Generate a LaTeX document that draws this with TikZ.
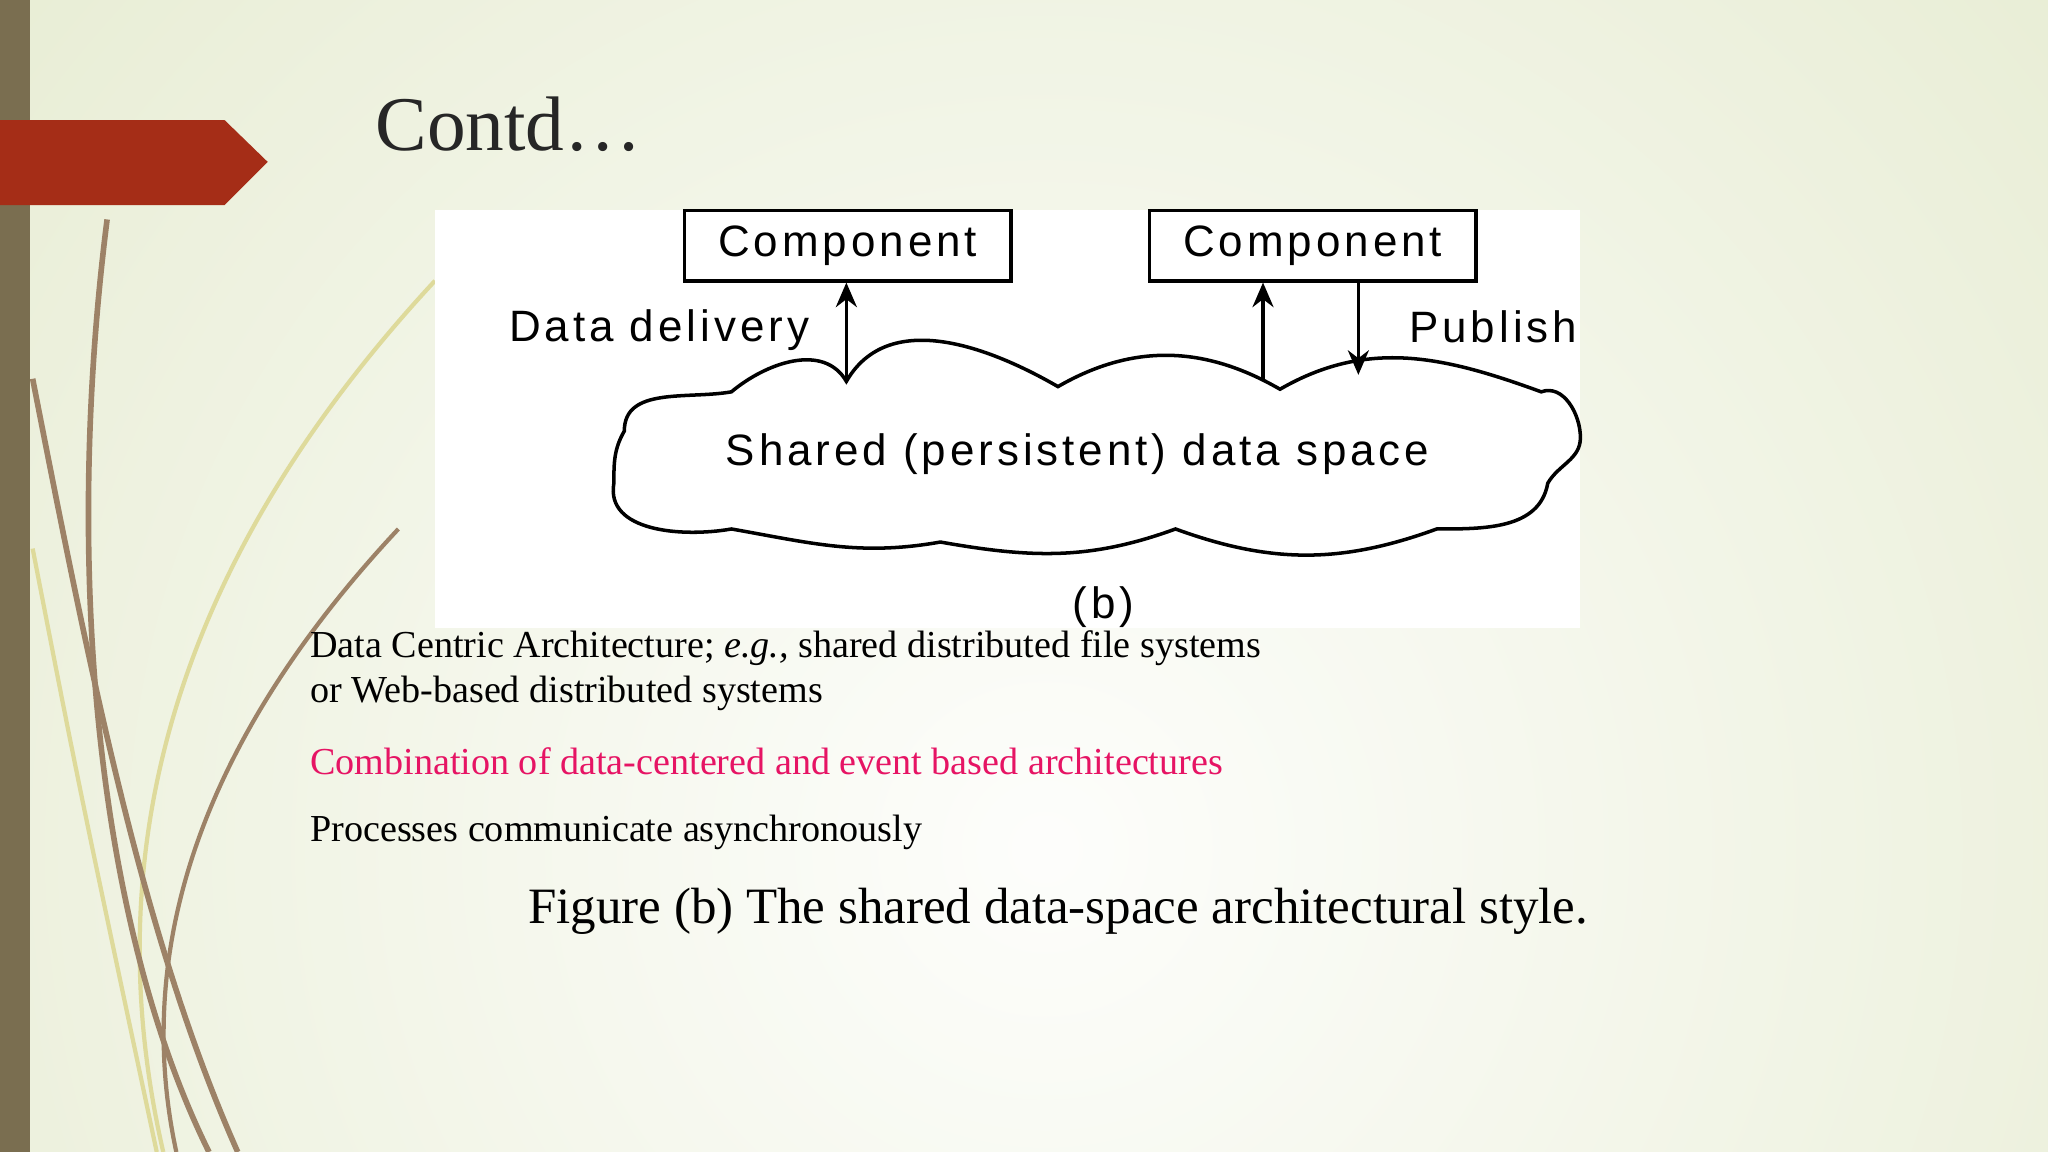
\documentclass[tikz,border=0pt]{standalone}
\usepackage{fontspec}
\usetikzlibrary{arrows.meta}
\setmainfont{Liberation Serif}
\newfontfamily\figsans[LetterSpace=9]{Liberation Sans}
\begin{document}
\begin{tikzpicture}[x=0.01306cm,y=-0.01306cm,
  lbl/.style={font=\figsans\fontsize{12.5pt}{14pt}\selectfont,inner sep=0},
  comp/.style={draw,line width=1pt,minimum width=250*0.01306cm,minimum height=54*0.01306cm,lbl},
  body/.style={font=\fontsize{10.85pt}{13pt}\selectfont,anchor=west,inner sep=0},
  deco/.style={draw=brown!60!black!70,line width=1.6pt},
  pale/.style={draw=white!70!olive,line width=1.2pt},
  arr/.style={-{Stealth[length=7pt,width=6pt]},line width=0.9pt}]
\definecolor{bgg}{HTML}{DFE6C4}
\useasboundingbox (0,0) rectangle (1568,882);
\begin{scope}
\clip (0,0) rectangle (1568,882);
\shade[inner color=white!94!bgg,outer color=bgg] (800,650) circle (1500);
% decorative curves
\draw[pale] (333,215) .. controls (180,380) and (60,600) .. (125,882);
\draw[pale] (25,420) .. controls (60,600) .. (120,882);
\draw[deco] (82,168) .. controls (50,420) and (70,700) .. (160,882);
\draw[deco] (25,290) .. controls (70,520) and (110,720) .. (182,882);
\draw[deco,line width=1.2pt] (305,405) .. controls (160,560) and (100,720) .. (135,882);
\end{scope}
\fill[fill={rgb,255:red,122;green,110;blue,80}] (0,0) rectangle (23,882);
\fill[fill={rgb,255:red,165;green,45;blue,23}] (0,92) -- (172,92) -- (205,124) -- (172,157) -- (0,157) -- cycle;
\node[anchor=west,inner sep=0,text=black!85,font=\fontsize{22pt}{26pt}\selectfont] (title) at (287,95) {Contd…};
% figure
\fill[white] (333,161) rectangle (1210,481);
\node[comp] (c1) at (649,188) {Component};
\node[comp] (c2) at (1005,188) {Component};
\draw[line width=1pt] (648,292) to[out=60,in=150] (810,296) to[out=30,in=150] (980,298)
  to[out=30,in=160] (1180,300) to[out=20,in=90] (1210,335) to[out=-90,in=60] (1185,370)
  to[out=-100,in=0] (1100,405) to[out=-160,in=-20] (900,405) to[out=-160,in=-10] (720,415)
  to[out=-170,in=-10] (560,405) to[out=-170,in=-100] (470,370) to[out=90,in=-120] (478,330)
  to[out=90,in=-170] (560,300) to[out=40,in=120] cycle;
\node[lbl] (sh) at (825,348) {Shared (persistent) data space};
\coordinate (a1) at (648,292);
\coordinate (a2) at (967,292);
\coordinate (a3) at (1040,287);
\draw[arr] (a1) -- (a1|-c1.south);
\draw[arr] (a2) -- (a2|-c2.south);
\draw[arr] (a3|-c2.south) -- (a3);
\node[lbl,anchor=east] (dd) at (620,253) {Data delivery};
\node[lbl,anchor=east] (pb) at (1208,250) {Publish};
\node[lbl] (b) at (845,465) {(b)};
% text
\node[body] (t1) at (237,496) {Data Centric Architecture; \textit{e.g.,} shared distributed file systems};
\node[body] (t2) at (237,531) {or Web-based distributed systems};
\node[body,text={rgb,255:red,230;green,20;blue,100}] (t3) at (237,583) {Combination of data-centered and event based architectures};
\node[body] (t4) at (237,637) {Processes communicate asynchronously};
\node[body,font=\fontsize{14.5pt}{17pt}\selectfont] (cap) at (404,698) {Figure (b) The shared data-space architectural style.};
\end{tikzpicture}
\end{document}
